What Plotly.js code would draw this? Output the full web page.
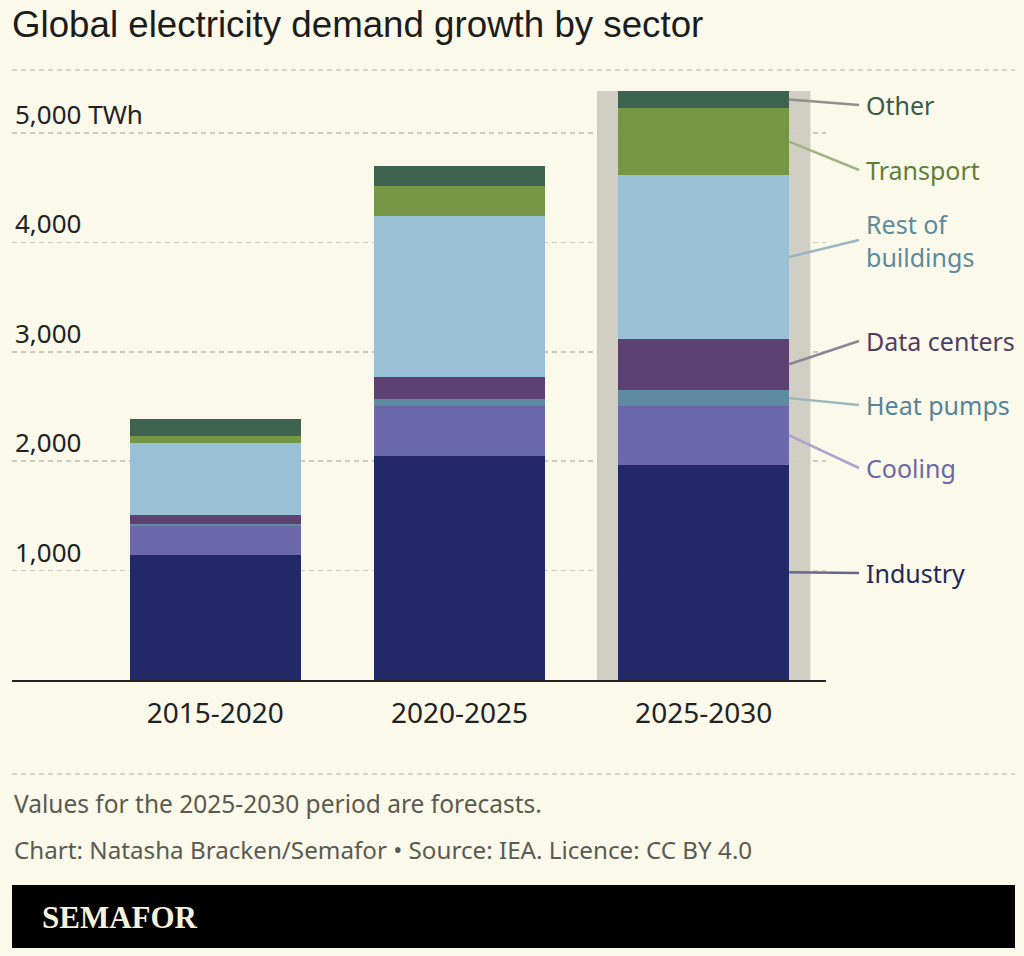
<!DOCTYPE html>
<html><head><meta charset="utf-8">
<script src="https://cdn.plot.ly/plotly-3.0.1.min.js"></script>
<style>html,body{margin:0;padding:0;background:#fbf9ea;} #chart{width:1024px;height:956px;}</style>
</head><body><div id="chart"></div>
<script>
// ---- data ----
const periods = ["2015-2020", "2020-2025", "2025-2030"];
const sectorNames = ["Industry", "Cooling", "Heat pumps", "Data centers", "Rest of buildings", "Transport", "Other"];
const industry = [1140, 2048, 1969];
const cooling = [270, 454, 533];
const heatPumps = [18, 67, 149];
const dataCenters = [84, 204, 470];
const restOfBuildings = [655, 1468, 1492];
const transport = [62, 278, 616];
const other = [153, 183, 155];
const yTickVals = [1000, 2000, 3000, 4000, 5000];
const yTickText = ["1,000", "2,000", "3,000", "4,000", "5,000 TWh"];
const labelTexts = ["Industry", "Cooling", "Heat pumps", "Data centers", "Rest of<br>buildings", "Transport", "Other"];

// ---- styles / layout geometry ----
const series = [industry, cooling, heatPumps, dataCenters, restOfBuildings, transport, other];
const barColors = ["#222966", "#6b69aa", "#5f8ba0", "#5d4170", "#9ac0d5", "#749645", "#3e6350"];
const textColors = ["#23285f", "#6b68a8", "#54839a", "#4f3d66", "#5c8aa0", "#5e7f36", "#3a5a48"];
const lineColors = ["#66698e", "#a6a5cb", "#99b7bf", "#8a8596", "#98b6c6", "#a2b384", "#8f918a"];
const labelPixelY = [573, 468, 405, 341, 240, 170, 105];

const W = 1024, H = 956;
const L = 12, R = 826, T = 80, B = 680;
const pxPer1000 = 109.4;
const yMax = (B - T) / pxPer1000 * 1000;
const xRange = [-0.8325, -0.8325 + (R - L) / 244.2];
const barWidthFrac = 0.70;
const hlHalf = 0.437;
const fontMain = "'Noto Sans', 'Open Sans', sans-serif";

const px = x => (x - L) / (R - L);
const py = y => (B - y) / (B - T);
const dataYFromPx = y => (B - y) / (B - T) * yMax;
const xDataToPaper = x => (x - xRange[0]) / (xRange[1] - xRange[0]);

const traces = series.map((vals, i) => ({
  type: "bar",
  name: sectorNames[i],
  x: periods,
  y: vals,
  marker: {color: barColors[i], line: {width: 0}},
  hoverinfo: "name+y"
}));

const last = periods.length - 1;
const totals = periods.map((_, j) => series.reduce((s, arr) => s + arr[j], 0));

const shapes = [];
shapes.push({type: "rect", xref: "x", yref: "y", x0: last - hlHalf, x1: last + hlHalf, y0: 0, y1: totals[last],
  fillcolor: "#d1cfc3", line: {width: 0}, layer: "below"});
shapes.push({type: "line", xref: "paper", yref: "paper", x0: 0, x1: px(1015), y0: py(70), y1: py(70),
  line: {color: "#cfcdc0", width: 1.5, dash: "5px,4px"}});
shapes.push({type: "line", xref: "paper", yref: "paper", x0: 0, x1: px(1015), y0: py(774), y1: py(774),
  line: {color: "#cfcdc0", width: 1.5, dash: "5px,4px"}});
shapes.push({type: "rect", xref: "paper", yref: "paper", x0: 0, x1: px(1015), y0: py(885), y1: py(948),
  fillcolor: "#000000", line: {width: 0}});

const annotations = [];
let cum = 0;
const barRight = xDataToPaper(last + barWidthFrac / 2);
series.forEach((vals, i) => {
  const mid = cum + vals[last] / 2;
  cum += vals[last];
  const ly = dataYFromPx(labelPixelY[i]);
  shapes.push({type: "line", xref: "paper", yref: "y", x0: barRight, x1: px(859), y0: mid, y1: ly,
    line: {color: lineColors[i], width: 2.5}});
  annotations.push({xref: "paper", yref: "y", x: px(864), y: ly, xanchor: "left", yanchor: "middle",
    text: labelTexts[i], showarrow: false, align: "left",
    font: {family: fontMain, size: 25, color: textColors[i]}});
});

annotations.push({xref: "paper", yref: "paper", x: 0, y: py(803), xanchor: "left", yanchor: "middle",
  text: "Values for the 2025-2030 period are forecasts.", showarrow: false,
  font: {family: fontMain, size: 24.5, color: "#5a5a52"}});
annotations.push({xref: "paper", yref: "paper", x: 0, y: py(849), xanchor: "left", yanchor: "middle",
  text: "Chart: Natasha Bracken/Semafor • Source: IEA. Licence: CC BY 4.0", showarrow: false,
  font: {family: fontMain, size: 24.2, color: "#5a5a52"}});
annotations.push({xref: "paper", yref: "paper", x: px(40), y: py(917), xanchor: "left", yanchor: "middle",
  text: "<b>SEMAFOR</b>", showarrow: false,
  font: {family: "'Liberation Serif', 'DejaVu Serif', serif", size: 31, color: "#f6f1dc"}});

const layout = {
  width: W, height: H,
  paper_bgcolor: "#fbf9ea", plot_bgcolor: "#fbf9ea",
  margin: {l: L, r: W - R, t: T, b: H - B, pad: 0},
  barmode: "stack",
  bargap: 1 - barWidthFrac,
  showlegend: false,
  title: {text: "Global electricity demand growth by sector", xref: "container", yref: "container",
    x: 12 / W, xanchor: "left", y: 1 - 24 / H, yanchor: "middle",
    font: {family: "'Liberation Sans', Arial, sans-serif", size: 36.7, color: "#1c1c1c"}},
  xaxis: {type: "category", range: xRange, showgrid: false, zeroline: false,
    showline: true, linecolor: "#222222", linewidth: 2, ticks: "",
    tickfont: {family: fontMain, size: 28, color: "#222222"}, ticklabelstandoff: 7, fixedrange: true},
  yaxis: {range: [0, yMax], tickvals: yTickVals, ticktext: yTickText,
    showgrid: true, gridcolor: "#cfcdc0", gridwidth: 1.5, griddash: "5px,4px",
    zeroline: false, showline: false, ticks: "",
    ticklabelposition: "inside top",
    tickfont: {family: fontMain, size: 26, color: "#222222"}, fixedrange: true},
  shapes: shapes,
  annotations: annotations
};

Plotly.newPlot("chart", traces, layout, {displayModeBar: false, staticPlot: true});
</script>
</body></html>
